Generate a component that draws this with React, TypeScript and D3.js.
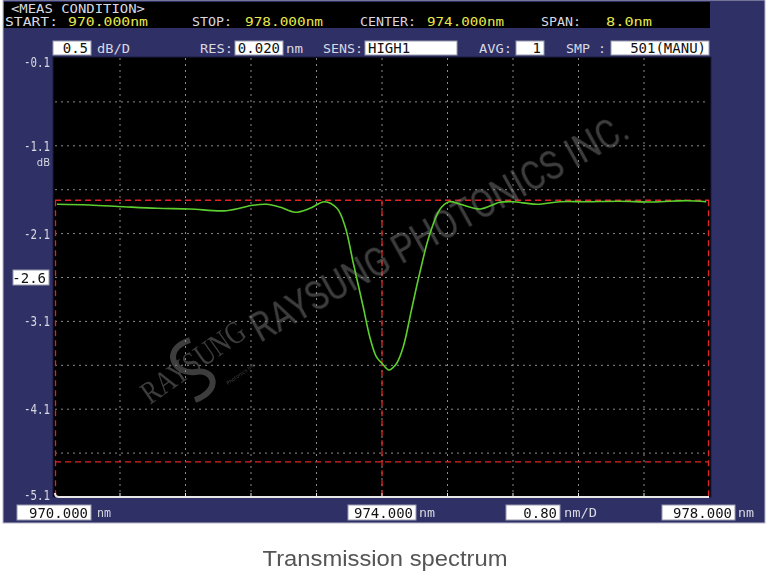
import React from "react";
import * as d3 from "d3";

const wavelengths = [970.03, 970.43, 970.84, 971.25, 971.65, 972.1, 972.42, 972.59, 972.75, 972.94, 973.12, 973.3, 973.45, 973.55, 973.65, 973.77, 973.85, 973.93, 974.0, 974.08, 974.13, 974.18, 974.26, 974.36, 974.46, 974.58, 974.71, 974.82, 974.95, 975.2, 975.44, 975.6, 975.89, 976.17, 976.5, 976.9, 977.31, 977.72, 977.96];
const transmission = [-1.766, -1.774, -1.794, -1.812, -1.82, -1.839, -1.778, -1.766, -1.797, -1.857, -1.812, -1.737, -1.812, -2.021, -2.438, -2.933, -3.274, -3.5, -3.577, -3.653, -3.63, -3.577, -3.388, -2.97, -2.552, -2.116, -1.82, -1.737, -1.763, -1.82, -1.743, -1.737, -1.766, -1.737, -1.737, -1.732, -1.74, -1.725, -1.737];

const yTickLabels = [-0.1, -1.1, -2.1, -3.1, -4.1, -5.1];
const yGridValues = [-0.6, -1.1, -1.6, -2.1, -2.6, -3.1, -3.6, -4.1, -4.6];
const xGridValues = [970.8, 971.6, 972.4, 973.2, 974.0, 974.8, 975.6, 976.4, 977.2];
const markerLevels = [-1.72, -4.7];
const markerWavelengths = [970.0, 974.0, 978.0];

const BLUE = "#2f3066";
const YEL = "#e8e84a";
const LT = "#d8d8e0";
const MONO = "'DejaVu Sans Mono', 'Liberation Mono', monospace";

function T(props: any) {
  const { x, y, w, children, fill = LT, size = 14, anchor = "start", family = MONO } = props;
  return (
    <text x={x} y={y} fill={fill} fontSize={size} fontFamily={family} textAnchor={anchor}
      textLength={w} lengthAdjust="spacingAndGlyphs">{children}</text>
  );
}

function Box(props: any) {
  const { x, y, w, h, text } = props;
  return (
    <g>
      <rect x={x} y={y} width={w} height={h} fill="#fff" stroke="#9a9ab0" strokeWidth={1} />
      <text x={x + w - 3} y={y + h - 2.5} fill="#111" fontSize={14} fontFamily={MONO} textAnchor="end">{text}</text>
    </g>
  );
}

export default function App() {
  const x = d3.scaleLinear().domain([970, 978]).range([54.5, 709.5]);
  const y = d3.scaleLinear().domain([-0.1, -5.1]).range([58, 497]);
  const pts = wavelengths.map((w, i) => [w, transmission[i]] as [number, number]);
  const line = d3.line<[number, number]>().x(d => x(d[0])).y(d => y(d[1])).curve(d3.curveCatmullRom.alpha(0.5));
  const topMarker = y(markerLevels[0]);

  return (
    <svg width={768} height={581} style={{ position: "absolute", left: 0, top: 0, background: "#fff" }}>
      {/* panel */}
      <rect x={3} y={0} width={762} height={523} fill={BLUE} stroke="#b8b8c8" strokeWidth={1} />
      <rect x={4} y={2} width={706} height={26} fill="#000" />
      {/* header */}
      <T x={11} y={13} w={134} size={11.5}>&lt;MEAS CONDITION&gt;</T>
      <T x={5} y={26} w={53} size={11.5}>START:</T>
      <T x={68} y={26} w={80} fill={YEL} size={11.5}>970.000nm</T>
      <T x={192} y={26} w={40} size={11.5}>STOP:</T>
      <T x={245} y={26} w={78} fill={YEL} size={11.5}>978.000nm</T>
      <T x={360} y={26} w={56} size={11.5}>CENTER:</T>
      <T x={427} y={26} w={77} fill={YEL} size={11.5}>974.000nm</T>
      <T x={541} y={26} w={40} size={11.5}>SPAN:</T>
      <T x={606} y={26} w={46} fill={YEL} size={11.5}>8.0nm</T>
      {/* second row */}
      <Box x={53} y={41} w={38} h={14} text="0.5" />
      <T x={97} y={53} w={33} size={12}>dB/D</T>
      <T x={200} y={53} w={33} size={12}>RES:</T>
      <Box x={235} y={41} w={48} h={14} text="0.020" />
      <T x={286} y={53} w={17} size={12}>nm</T>
      <T x={323} y={53} w={40} size={12}>SENS:</T>
      <rect x={365} y={41} width={92} height={14} fill="#fff" stroke="#9a9ab0" />
      <text x={368} y={53} fill="#111" fontSize={14} fontFamily={MONO}>HIGH1</text>
      <T x={479} y={53} w={33} size={12}>AVG:</T>
      <Box x={516} y={41} w={28} h={14} text="1" />
      <T x={566} y={53} w={40} size={12}>SMP :</T>
      <Box x={611} y={41} w={98} h={14} text="501(MANU)" />
      {/* plot area */}
      <rect x={53} y={57} width={658} height={440} fill="#000" stroke="#1a1a40" strokeWidth={1} />
      {yGridValues.map(v => (
        <line key={"gy" + v} x1={55} x2={709} y1={y(v)} y2={y(v)} stroke="#8a8a8a" strokeWidth={1} strokeDasharray="2,4" />
      ))}
      {xGridValues.map(v => (
        <line key={"gx" + v} x1={x(v)} x2={x(v)} y1={58} y2={497} stroke="#8a8a8a" strokeWidth={1} strokeDasharray="2,4" />
      ))}
      {/* markers */}
      {markerLevels.map(v => (
        <line key={"mh" + v} x1={55} x2={709} y1={y(v)} y2={y(v)} stroke="#e02424" strokeWidth={1.3} strokeDasharray="6,4" />
      ))}
      {markerWavelengths.map(v => (
        <line key={"mv" + v} x1={Math.min(Math.max(x(v), 55.5), 708.5)} x2={Math.min(Math.max(x(v), 55.5), 708.5)} y1={topMarker} y2={497} stroke="#e02424" strokeWidth={1.3} strokeDasharray="6,4" />
      ))}
      {/* watermark */}
      <g opacity={0.45}>
        <text transform="translate(260,343) rotate(-29)" fontSize={40} fontFamily="'Liberation Sans Narrow','Roboto','DejaVu Sans'" textLength={425} lengthAdjust="spacingAndGlyphs" fill="#8a8a8a">RAYSUNG PHOTONICS INC.</text>
        <text transform="translate(150,405) rotate(-35)" fontSize={32} fontFamily="'Liberation Serif', serif" textLength={120} lengthAdjust="spacingAndGlyphs" fill="#8a8a8a">RAYSUNG</text>
        <path d="M190,340 C160,350 175,375 195,372 C215,368 222,390 195,400" fill="none" stroke="#8a8a8a" strokeWidth={6} />
        <text transform="translate(228,385) rotate(-35)" fontSize={5} fontFamily="'DejaVu Sans'" fill="#8a8a8a">Photonics Inc.</text>
      </g>
      {/* trace */}
      <path d={line(pts) || ""} fill="none" stroke="#5ccf2e" strokeWidth={1.6} />
      {/* bottom axis line */}
      <path d={`M55,${497 - 4} Q55,497 59,497 L709,497`} fill="none" stroke="#e8e8e8" strokeWidth={2} />
      {xGridValues.map(v => (
        <line key={"tk" + v} x1={x(v)} x2={x(v)} y1={497} y2={493} stroke="#e8e8e8" strokeWidth={1} />
      ))}
      {/* y labels */}
      {yTickLabels.map(v => (
        <T key={"yl" + v} x={50} y={Math.min(y(v) + 5, 500) + (v === -0.1 ? 4 : 0)} w={26} anchor="end" size={14}>{v.toFixed(1)}</T>
      ))}
      <text x={50} y={166} fill={LT} fontSize={10} fontFamily="'DejaVu Sans'" textAnchor="end">dB</text>
      <Box x={13} y={270} w={36} h={15} text="-2.6" />
      {/* bottom labels */}
      <Box x={17} y={505} w={74} h={15} text="970.000" />
      <T x={97} y={517} w={14} size={12}>nm</T>
      <Box x={348} y={505} w={68} h={15} text="974.000" />
      <T x={419} y={517} w={16} size={12}>nm</T>
      <Box x={506} y={505} w={54} h={15} text="0.80" />
      <T x={564} y={517} w={33} size={12}>nm/D</T>
      <Box x={662} y={505} w={73} h={15} text="978.000" />
      <T x={738} y={517} w={16} size={12}>nm</T>
      {/* caption */}
      <text x={385} y={566} fill="#555" fontSize={22} fontFamily="'Liberation Sans', Arial, sans-serif" textAnchor="middle" textLength={245} lengthAdjust="spacingAndGlyphs">Transmission spectrum</text>
    </svg>
  );
}
